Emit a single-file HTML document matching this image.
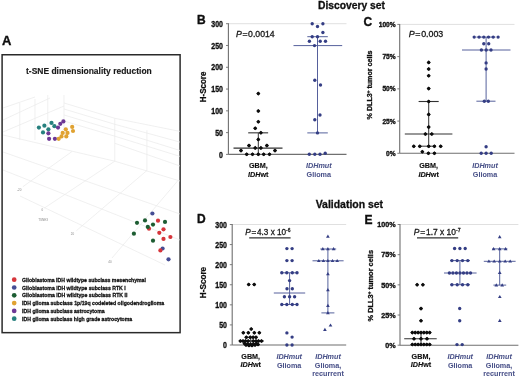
<!DOCTYPE html>
<html><head><meta charset="utf-8"><title>Figure</title>
<style>
html,body{margin:0;padding:0;background:#fff;width:520px;height:378px;overflow:hidden;}
svg{display:block;font-family:"Liberation Sans",sans-serif;}
</style></head><body>
<svg width="520" height="378" viewBox="0 0 520 378" font-family="Liberation Sans, sans-serif">
<defs><filter id="bl" x="0" y="0" width="100%" height="100%" filterUnits="userSpaceOnUse"><feGaussianBlur stdDeviation="0.35"/></filter></defs>
<rect width="520" height="378" fill="#fff"/>
<g filter="url(#bl)">
<text x="2.00" y="45.30" font-size="13" font-weight="bold" text-anchor="start" fill="#111" stroke="#111" stroke-width="0.35">A</text>
<rect x="2.1" y="54.75" width="178.0" height="277.9" fill="none" stroke="#2a2a2a" stroke-width="1.5"/>
<text x="26.00" y="74.20" font-size="9" font-weight="bold" text-anchor="start" fill="#1a1a1a" textLength="125.8" lengthAdjust="spacingAndGlyphs" stroke="#1a1a1a" stroke-width="0.15">t-SNE dimensionality reduction</text>
<line x1="19.80" y1="103.00" x2="19.80" y2="140.00" stroke="#e9e9e9" stroke-width="0.7"/>
<line x1="35.00" y1="99.00" x2="35.00" y2="140.00" stroke="#e9e9e9" stroke-width="0.7"/>
<line x1="47.80" y1="95.00" x2="47.80" y2="140.00" stroke="#e9e9e9" stroke-width="0.7"/>
<line x1="64.00" y1="95.00" x2="64.00" y2="130.00" stroke="#e9e9e9" stroke-width="0.7"/>
<line x1="3.00" y1="132.00" x2="64.00" y2="106.00" stroke="#e9e9e9" stroke-width="0.7"/>
<line x1="3.00" y1="120.00" x2="50.00" y2="98.00" stroke="#e9e9e9" stroke-width="0.7"/>
<line x1="3.00" y1="108.00" x2="35.00" y2="97.00" stroke="#e9e9e9" stroke-width="0.7"/>
<line x1="3.00" y1="135.00" x2="114.80" y2="161.20" stroke="#e9e9e9" stroke-width="0.7"/>
<line x1="114.80" y1="161.20" x2="180.00" y2="181.00" stroke="#e9e9e9" stroke-width="0.7"/>
<line x1="114.80" y1="118.30" x2="114.80" y2="161.20" stroke="#e9e9e9" stroke-width="0.7"/>
<line x1="146.90" y1="130.20" x2="146.90" y2="170.50" stroke="#e9e9e9" stroke-width="0.7"/>
<line x1="64.00" y1="103.00" x2="114.80" y2="118.30" stroke="#e9e9e9" stroke-width="0.7"/>
<line x1="114.80" y1="118.30" x2="180.00" y2="131.40" stroke="#e9e9e9" stroke-width="0.7"/>
<line x1="64.00" y1="109.00" x2="114.80" y2="124.30" stroke="#e9e9e9" stroke-width="0.7"/>
<line x1="114.80" y1="124.30" x2="180.00" y2="142.10" stroke="#e9e9e9" stroke-width="0.7"/>
<line x1="64.00" y1="115.00" x2="114.80" y2="130.20" stroke="#e9e9e9" stroke-width="0.7"/>
<line x1="114.80" y1="130.20" x2="180.00" y2="150.50" stroke="#e9e9e9" stroke-width="0.7"/>
<line x1="64.00" y1="121.00" x2="114.80" y2="136.20" stroke="#e9e9e9" stroke-width="0.7"/>
<line x1="114.80" y1="136.20" x2="180.00" y2="156.40" stroke="#e9e9e9" stroke-width="0.7"/>
<line x1="114.80" y1="143.30" x2="180.00" y2="166.00" stroke="#e9e9e9" stroke-width="0.7"/>
<line x1="22.90" y1="186.70" x2="72.00" y2="151.50" stroke="#e9e9e9" stroke-width="0.7"/>
<line x1="44.30" y1="208.10" x2="114.80" y2="161.20" stroke="#e9e9e9" stroke-width="0.7"/>
<line x1="76.40" y1="230.70" x2="146.90" y2="170.50" stroke="#e9e9e9" stroke-width="0.7"/>
<line x1="112.00" y1="258.00" x2="178.00" y2="180.50" stroke="#e9e9e9" stroke-width="0.7"/>
<line x1="3.00" y1="152.00" x2="180.00" y2="214.00" stroke="#e9e9e9" stroke-width="0.7"/>
<line x1="3.00" y1="170.00" x2="180.00" y2="240.00" stroke="#e9e9e9" stroke-width="0.7"/>
<line x1="20.00" y1="196.00" x2="165.00" y2="265.00" stroke="#e9e9e9" stroke-width="0.7"/>
<text x="19.30" y="190.80" font-size="3" font-weight="normal" text-anchor="middle" fill="#888">-20</text>
<text x="42.40" y="210.80" font-size="3" font-weight="normal" text-anchor="middle" fill="#888">0</text>
<text x="43.00" y="220.50" font-size="3" font-weight="normal" text-anchor="middle" fill="#888">TSNE3</text>
<text x="72.40" y="235.30" font-size="3" font-weight="normal" text-anchor="middle" fill="#888">20</text>
<text x="110.00" y="262.50" font-size="3" font-weight="normal" text-anchor="middle" fill="#888">40</text>
<circle cx="38.9" cy="127.6" r="2.1" fill="#28807e"/>
<circle cx="44.4" cy="125.7" r="2.1" fill="#28807e"/>
<circle cx="43" cy="132.4" r="2.1" fill="#28807e"/>
<circle cx="48.4" cy="129.3" r="2.1" fill="#28807e"/>
<circle cx="51.5" cy="122.9" r="2.1" fill="#28807e"/>
<circle cx="54.4" cy="126.2" r="2.1" fill="#28807e"/>
<circle cx="63.4" cy="121.4" r="2.1" fill="#6d3996"/>
<circle cx="60.3" cy="123.8" r="2.1" fill="#6d3996"/>
<circle cx="58" cy="127.6" r="2.1" fill="#6d3996"/>
<circle cx="48.4" cy="133.3" r="2.1" fill="#6d3996"/>
<circle cx="49.1" cy="138.8" r="2.1" fill="#6d3996"/>
<circle cx="54.9" cy="138.8" r="2.1" fill="#6d3996"/>
<circle cx="65.8" cy="129.3" r="2.1" fill="#e0a230"/>
<circle cx="72.2" cy="126.9" r="2.1" fill="#e0a230"/>
<circle cx="73" cy="131" r="2.1" fill="#e0a230"/>
<circle cx="67.5" cy="132.9" r="2.1" fill="#e0a230"/>
<circle cx="62.7" cy="132.9" r="2.1" fill="#e0a230"/>
<circle cx="61.5" cy="136.4" r="2.1" fill="#e0a230"/>
<circle cx="58.7" cy="138.8" r="2.1" fill="#e0a230"/>
<circle cx="66.3" cy="136.4" r="2.1" fill="#e0a230"/>
<circle cx="162.6" cy="248.5" r="2.1" fill="#444d94"/>
<circle cx="158" cy="220.7" r="2.1" fill="#d6343a"/>
<circle cx="149" cy="228.7" r="2.1" fill="#d6343a"/>
<circle cx="163.5" cy="229.3" r="2.1" fill="#d6343a"/>
<circle cx="159.3" cy="232.8" r="2.1" fill="#d6343a"/>
<circle cx="170.4" cy="237" r="2.1" fill="#d6343a"/>
<circle cx="163.5" cy="238.9" r="2.1" fill="#d6343a"/>
<circle cx="160.4" cy="250.4" r="2.1" fill="#d6343a"/>
<circle cx="137" cy="222.8" r="2.1" fill="#1f5d33"/>
<circle cx="145" cy="220.4" r="2.1" fill="#1f5d33"/>
<circle cx="147.8" cy="226.9" r="2.1" fill="#1f5d33"/>
<circle cx="153" cy="224.6" r="2.1" fill="#1f5d33"/>
<circle cx="165" cy="221.9" r="2.1" fill="#1f5d33"/>
<circle cx="133.9" cy="233.7" r="2.1" fill="#1f5d33"/>
<circle cx="153" cy="240.7" r="2.1" fill="#1f5d33"/>
<circle cx="152.4" cy="213.5" r="2.1" fill="#444d94"/>
<circle cx="168.5" cy="259.3" r="2.1" fill="#444d94"/>
<circle cx="14.2" cy="279.70" r="2.35" fill="#d6343a"/>
<text x="22.10" y="281.80" font-size="6.0" font-weight="bold" text-anchor="start" fill="#111" textLength="123.8" lengthAdjust="spacingAndGlyphs" stroke="#111" stroke-width="0.3">Glioblastoma IDH wildtype subclass mesenchymal</text>
<circle cx="14.2" cy="287.50" r="2.35" fill="#444d94"/>
<text x="22.10" y="289.60" font-size="6.0" font-weight="bold" text-anchor="start" fill="#111" textLength="103.6" lengthAdjust="spacingAndGlyphs" stroke="#111" stroke-width="0.3">Glioblastoma IDH wildtype subclass RTK I</text>
<circle cx="14.2" cy="295.30" r="2.35" fill="#1f5d33"/>
<text x="22.10" y="297.40" font-size="6.0" font-weight="bold" text-anchor="start" fill="#111" textLength="105.3" lengthAdjust="spacingAndGlyphs" stroke="#111" stroke-width="0.3">Glioblastoma IDH wildtype subclass RTK II</text>
<circle cx="14.2" cy="303.10" r="2.35" fill="#e0a230"/>
<text x="22.10" y="305.20" font-size="6.0" font-weight="bold" text-anchor="start" fill="#111" textLength="142.1" lengthAdjust="spacingAndGlyphs" stroke="#111" stroke-width="0.3">IDH glioma subclass 1p/19q codeleted oligodendroglioma</text>
<circle cx="14.2" cy="310.90" r="2.35" fill="#6d3996"/>
<text x="22.10" y="313.00" font-size="6.0" font-weight="bold" text-anchor="start" fill="#111" textLength="82.5" lengthAdjust="spacingAndGlyphs" stroke="#111" stroke-width="0.3">IDH glioma subclass astrocytoma</text>
<circle cx="14.2" cy="318.70" r="2.35" fill="#28807e"/>
<text x="22.10" y="320.80" font-size="6.0" font-weight="bold" text-anchor="start" fill="#111" textLength="110.1" lengthAdjust="spacingAndGlyphs" stroke="#111" stroke-width="0.3">IDH glioma subclass high grade astrocytoma</text>
<text x="318.00" y="8.80" font-size="10.3" font-weight="bold" text-anchor="start" fill="#111" textLength="67" lengthAdjust="spacingAndGlyphs" stroke="#111" stroke-width="0.3">Discovery set</text>
<text x="315.70" y="207.70" font-size="10.6" font-weight="bold" text-anchor="start" fill="#111" textLength="67.4" lengthAdjust="spacingAndGlyphs" stroke="#111" stroke-width="0.3">Validation set</text>
<text x="197.00" y="23.50" font-size="12" font-weight="bold" text-anchor="start" fill="#111" stroke="#111" stroke-width="0.35">B</text>
<line x1="228.40" y1="23.70" x2="346.50" y2="23.70" stroke="#e0e0e0" stroke-width="1.0"/>
<line x1="228.40" y1="23.20" x2="228.40" y2="154.40" stroke="#6f6f6f" stroke-width="1.1"/>
<line x1="228.40" y1="154.40" x2="346.50" y2="154.40" stroke="#6f6f6f" stroke-width="1.1"/>
<line x1="226.00" y1="154.40" x2="228.40" y2="154.40" stroke="#6f6f6f" stroke-width="0.9"/>
<text x="223.00" y="157.60" font-size="8.3" font-weight="bold" text-anchor="end" fill="#111" textLength="3.9" lengthAdjust="spacingAndGlyphs" stroke="#111" stroke-width="0.35">0</text>
<line x1="226.00" y1="132.62" x2="228.40" y2="132.62" stroke="#6f6f6f" stroke-width="0.9"/>
<text x="223.00" y="135.82" font-size="8.3" font-weight="bold" text-anchor="end" fill="#111" textLength="7.8" lengthAdjust="spacingAndGlyphs" stroke="#111" stroke-width="0.35">50</text>
<line x1="226.00" y1="110.83" x2="228.40" y2="110.83" stroke="#6f6f6f" stroke-width="0.9"/>
<text x="223.00" y="114.03" font-size="8.3" font-weight="bold" text-anchor="end" fill="#111" textLength="11.7" lengthAdjust="spacingAndGlyphs" stroke="#111" stroke-width="0.35">100</text>
<line x1="226.00" y1="89.05" x2="228.40" y2="89.05" stroke="#6f6f6f" stroke-width="0.9"/>
<text x="223.00" y="92.25" font-size="8.3" font-weight="bold" text-anchor="end" fill="#111" textLength="11.7" lengthAdjust="spacingAndGlyphs" stroke="#111" stroke-width="0.35">150</text>
<line x1="226.00" y1="67.27" x2="228.40" y2="67.27" stroke="#6f6f6f" stroke-width="0.9"/>
<text x="223.00" y="70.47" font-size="8.3" font-weight="bold" text-anchor="end" fill="#111" textLength="11.7" lengthAdjust="spacingAndGlyphs" stroke="#111" stroke-width="0.35">200</text>
<line x1="226.00" y1="45.48" x2="228.40" y2="45.48" stroke="#6f6f6f" stroke-width="0.9"/>
<text x="223.00" y="48.68" font-size="8.3" font-weight="bold" text-anchor="end" fill="#111" textLength="11.7" lengthAdjust="spacingAndGlyphs" stroke="#111" stroke-width="0.35">250</text>
<line x1="226.00" y1="23.70" x2="228.40" y2="23.70" stroke="#6f6f6f" stroke-width="0.9"/>
<text x="223.00" y="26.90" font-size="8.3" font-weight="bold" text-anchor="end" fill="#111" textLength="11.7" lengthAdjust="spacingAndGlyphs" stroke="#111" stroke-width="0.35">300</text>
<text x="236.00" y="36.80" font-size="8.3" font-weight="normal" text-anchor="start" fill="#151515" textLength="38.6" lengthAdjust="spacingAndGlyphs" stroke="#151515" stroke-width="0.28"><tspan font-style="italic">P</tspan><tspan dx="0.6">=</tspan><tspan dx="0.6">0.0014</tspan></text>
<text x="205.60" y="86.90" font-size="8.2" font-weight="bold" text-anchor="middle" fill="#111" textLength="30.7" lengthAdjust="spacingAndGlyphs" transform="rotate(-90 205.6 86.9)" stroke="#111" stroke-width="0.25">H-Score</text>
<line x1="233.50" y1="148.17" x2="282.50" y2="148.17" stroke="#333" stroke-width="1.1"/>
<line x1="248.20" y1="132.83" x2="268.10" y2="132.83" stroke="#333" stroke-width="1.1"/>
<line x1="258.30" y1="132.83" x2="258.30" y2="154.40" stroke="#333" stroke-width="1.0"/>
<path d="M258.30 91.55L260.35 93.60L258.30 95.65L256.25 93.60Z" fill="#111"/>
<circle cx="258.30" cy="93.60" r="1.5" fill="#111"/>
<path d="M258.30 108.95L260.35 111.00L258.30 113.05L256.25 111.00Z" fill="#111"/>
<circle cx="258.30" cy="111.00" r="1.5" fill="#111"/>
<path d="M258.30 119.65L260.35 121.70L258.30 123.75L256.25 121.70Z" fill="#111"/>
<circle cx="258.30" cy="121.70" r="1.5" fill="#111"/>
<path d="M255.20 126.25L257.25 128.30L255.20 130.35L253.15 128.30Z" fill="#111"/>
<circle cx="255.20" cy="128.30" r="1.5" fill="#111"/>
<path d="M260.90 130.65L262.95 132.70L260.90 134.75L258.85 132.70Z" fill="#111"/>
<circle cx="260.90" cy="132.70" r="1.5" fill="#111"/>
<path d="M258.30 137.35L260.35 139.40L258.30 141.45L256.25 139.40Z" fill="#111"/>
<circle cx="258.30" cy="139.40" r="1.5" fill="#111"/>
<path d="M249.00 143.55L251.05 145.60L249.00 147.65L246.95 145.60Z" fill="#111"/>
<circle cx="249.00" cy="145.60" r="1.5" fill="#111"/>
<path d="M266.90 143.55L268.95 145.60L266.90 147.65L264.85 145.60Z" fill="#111"/>
<circle cx="266.90" cy="145.60" r="1.5" fill="#111"/>
<path d="M255.20 145.85L257.25 147.90L255.20 149.95L253.15 147.90Z" fill="#111"/>
<circle cx="255.20" cy="147.90" r="1.5" fill="#111"/>
<path d="M260.90 145.85L262.95 147.90L260.90 149.95L258.85 147.90Z" fill="#111"/>
<circle cx="260.90" cy="147.90" r="1.5" fill="#111"/>
<path d="M241.00 148.55L243.05 150.60L241.00 152.65L238.95 150.60Z" fill="#111"/>
<circle cx="241.00" cy="150.60" r="1.5" fill="#111"/>
<path d="M275.00 148.55L277.05 150.60L275.00 152.65L272.95 150.60Z" fill="#111"/>
<circle cx="275.00" cy="150.60" r="1.5" fill="#111"/>
<path d="M246.70 152.15L248.75 154.20L246.70 156.25L244.65 154.20Z" fill="#111"/>
<circle cx="246.70" cy="154.20" r="1.5" fill="#111"/>
<path d="M252.50 152.15L254.55 154.20L252.50 156.25L250.45 154.20Z" fill="#111"/>
<circle cx="252.50" cy="154.20" r="1.5" fill="#111"/>
<path d="M258.30 152.15L260.35 154.20L258.30 156.25L256.25 154.20Z" fill="#111"/>
<circle cx="258.30" cy="154.20" r="1.5" fill="#111"/>
<path d="M263.70 152.15L265.75 154.20L263.70 156.25L261.65 154.20Z" fill="#111"/>
<circle cx="263.70" cy="154.20" r="1.5" fill="#111"/>
<path d="M269.50 152.15L271.55 154.20L269.50 156.25L267.45 154.20Z" fill="#111"/>
<circle cx="269.50" cy="154.20" r="1.5" fill="#111"/>
<line x1="293.50" y1="45.60" x2="342.20" y2="45.60" stroke="#56619c" stroke-width="1.0"/>
<line x1="307.30" y1="36.70" x2="327.80" y2="36.70" stroke="#56619c" stroke-width="1.0"/>
<line x1="307.30" y1="132.90" x2="327.80" y2="132.90" stroke="#56619c" stroke-width="1.0"/>
<line x1="317.50" y1="36.70" x2="317.50" y2="132.90" stroke="#56619c" stroke-width="1.0"/>
<circle cx="312.20" cy="23.70" r="1.68" fill="#343e84"/>
<circle cx="322.90" cy="23.70" r="1.68" fill="#343e84"/>
<circle cx="317.50" cy="26.50" r="1.68" fill="#343e84"/>
<circle cx="322.90" cy="32.50" r="1.68" fill="#343e84"/>
<circle cx="312.20" cy="36.70" r="1.68" fill="#343e84"/>
<circle cx="317.50" cy="36.70" r="1.68" fill="#343e84"/>
<circle cx="309.40" cy="41.30" r="1.68" fill="#343e84"/>
<circle cx="320.20" cy="41.30" r="1.68" fill="#343e84"/>
<circle cx="325.50" cy="41.30" r="1.68" fill="#343e84"/>
<circle cx="314.50" cy="45.60" r="1.68" fill="#343e84"/>
<circle cx="314.80" cy="80.20" r="1.68" fill="#343e84"/>
<circle cx="320.50" cy="85.00" r="1.68" fill="#343e84"/>
<circle cx="320.00" cy="115.00" r="1.68" fill="#343e84"/>
<circle cx="314.80" cy="119.80" r="1.68" fill="#343e84"/>
<circle cx="317.50" cy="132.90" r="1.68" fill="#343e84"/>
<circle cx="309.30" cy="154.20" r="1.68" fill="#343e84"/>
<circle cx="314.80" cy="154.20" r="1.68" fill="#343e84"/>
<circle cx="320.00" cy="154.20" r="1.68" fill="#343e84"/>
<circle cx="325.20" cy="153.20" r="1.68" fill="#343e84"/>
<text x="258.30" y="168.40" font-size="7.2" font-weight="bold" text-anchor="middle" fill="#111" stroke="#111" stroke-width="0.15">GBM,</text>
<text x="258.30" y="176.80" font-size="7.2" font-weight="bold" text-anchor="middle" fill="#111" stroke="#111" stroke-width="0.15"><tspan font-style="italic">IDH</tspan>wt</text>
<text x="318.80" y="168.40" font-size="7.2" font-weight="bold" text-anchor="middle" fill="#4a5289" font-style="italic" stroke="#4a5289" stroke-width="0.05">IDHmut</text>
<text x="318.80" y="176.80" font-size="7.2" font-weight="bold" text-anchor="middle" fill="#4a5289" stroke="#4a5289" stroke-width="0.05">Glioma</text>
<text x="363.50" y="25.60" font-size="12" font-weight="bold" text-anchor="start" fill="#111" stroke="#111" stroke-width="0.35">C</text>
<line x1="399.70" y1="24.40" x2="514.50" y2="24.40" stroke="#e0e0e0" stroke-width="1.0"/>
<line x1="399.70" y1="23.90" x2="399.70" y2="153.30" stroke="#6f6f6f" stroke-width="1.1"/>
<line x1="399.70" y1="153.30" x2="514.50" y2="153.30" stroke="#6f6f6f" stroke-width="1.1"/>
<line x1="397.30" y1="153.30" x2="399.70" y2="153.30" stroke="#6f6f6f" stroke-width="0.9"/>
<text x="395.60" y="155.80" font-size="6.6" font-weight="bold" text-anchor="end" fill="#111" stroke="#111" stroke-width="0.35">0%</text>
<line x1="397.30" y1="121.08" x2="399.70" y2="121.08" stroke="#6f6f6f" stroke-width="0.9"/>
<text x="395.60" y="123.58" font-size="6.6" font-weight="bold" text-anchor="end" fill="#111" stroke="#111" stroke-width="0.35">25%</text>
<line x1="397.30" y1="88.85" x2="399.70" y2="88.85" stroke="#6f6f6f" stroke-width="0.9"/>
<text x="395.60" y="91.35" font-size="6.6" font-weight="bold" text-anchor="end" fill="#111" stroke="#111" stroke-width="0.35">50%</text>
<line x1="397.30" y1="56.62" x2="399.70" y2="56.62" stroke="#6f6f6f" stroke-width="0.9"/>
<text x="395.60" y="59.12" font-size="6.6" font-weight="bold" text-anchor="end" fill="#111" stroke="#111" stroke-width="0.35">75%</text>
<line x1="397.30" y1="24.40" x2="399.70" y2="24.40" stroke="#6f6f6f" stroke-width="0.9"/>
<text x="395.60" y="26.90" font-size="6.6" font-weight="bold" text-anchor="end" fill="#111" stroke="#111" stroke-width="0.35">100%</text>
<text x="408.80" y="36.80" font-size="8.3" font-weight="normal" text-anchor="start" fill="#151515" textLength="34.5" lengthAdjust="spacingAndGlyphs" stroke="#151515" stroke-width="0.28"><tspan font-style="italic">P</tspan><tspan dx="0.6">=</tspan><tspan dx="0.6">0.003</tspan></text>
<text x="372.40" y="85.00" font-size="7.0" font-weight="bold" text-anchor="middle" fill="#111" textLength="68.8" lengthAdjust="spacingAndGlyphs" transform="rotate(-90 372.4 85)" stroke="#111" stroke-width="0.3">% DLL3<tspan font-size="4.5" dy="-2.5">+</tspan><tspan dy="2.5"> tumor cells</tspan></text>
<line x1="404.80" y1="134.00" x2="452.40" y2="134.00" stroke="#333" stroke-width="1.1"/>
<line x1="418.60" y1="101.50" x2="438.70" y2="101.50" stroke="#333" stroke-width="1.1"/>
<line x1="421.00" y1="146.20" x2="436.00" y2="146.20" stroke="#333" stroke-width="1.0"/>
<line x1="428.70" y1="101.50" x2="428.70" y2="146.20" stroke="#333" stroke-width="1.0"/>
<path d="M428.70 60.35L430.75 62.40L428.70 64.45L426.65 62.40Z" fill="#111"/>
<circle cx="428.70" cy="62.40" r="1.5" fill="#111"/>
<path d="M428.70 66.95L430.75 69.00L428.70 71.05L426.65 69.00Z" fill="#111"/>
<circle cx="428.70" cy="69.00" r="1.5" fill="#111"/>
<path d="M428.70 73.65L430.75 75.70L428.70 77.75L426.65 75.70Z" fill="#111"/>
<circle cx="428.70" cy="75.70" r="1.5" fill="#111"/>
<path d="M428.70 86.55L430.75 88.60L428.70 90.65L426.65 88.60Z" fill="#111"/>
<circle cx="428.70" cy="88.60" r="1.5" fill="#111"/>
<path d="M428.70 99.45L430.75 101.50L428.70 103.55L426.65 101.50Z" fill="#111"/>
<circle cx="428.70" cy="101.50" r="1.5" fill="#111"/>
<path d="M428.70 112.35L430.75 114.40L428.70 116.45L426.65 114.40Z" fill="#111"/>
<circle cx="428.70" cy="114.40" r="1.5" fill="#111"/>
<path d="M428.70 125.05L430.75 127.10L428.70 129.15L426.65 127.10Z" fill="#111"/>
<circle cx="428.70" cy="127.10" r="1.5" fill="#111"/>
<path d="M425.40 131.95L427.45 134.00L425.40 136.05L423.35 134.00Z" fill="#111"/>
<circle cx="425.40" cy="134.00" r="1.5" fill="#111"/>
<path d="M431.80 131.95L433.85 134.00L431.80 136.05L429.75 134.00Z" fill="#111"/>
<circle cx="431.80" cy="134.00" r="1.5" fill="#111"/>
<path d="M413.80 144.15L415.85 146.20L413.80 148.25L411.75 146.20Z" fill="#111"/>
<circle cx="413.80" cy="146.20" r="1.5" fill="#111"/>
<path d="M419.80 144.15L421.85 146.20L419.80 148.25L417.75 146.20Z" fill="#111"/>
<circle cx="419.80" cy="146.20" r="1.5" fill="#111"/>
<path d="M428.70 144.15L430.75 146.20L428.70 148.25L426.65 146.20Z" fill="#111"/>
<circle cx="428.70" cy="146.20" r="1.5" fill="#111"/>
<path d="M434.40 144.15L436.45 146.20L434.40 148.25L432.35 146.20Z" fill="#111"/>
<circle cx="434.40" cy="146.20" r="1.5" fill="#111"/>
<path d="M440.70 144.15L442.75 146.20L440.70 148.25L438.65 146.20Z" fill="#111"/>
<circle cx="440.70" cy="146.20" r="1.5" fill="#111"/>
<path d="M422.30 149.65L424.35 151.70L422.30 153.75L420.25 151.70Z" fill="#111"/>
<circle cx="422.30" cy="151.70" r="1.5" fill="#111"/>
<path d="M428.40 151.25L430.45 153.30L428.40 155.35L426.35 153.30Z" fill="#111"/>
<circle cx="428.40" cy="153.30" r="1.5" fill="#111"/>
<path d="M434.40 151.25L436.45 153.30L434.40 155.35L432.35 153.30Z" fill="#111"/>
<circle cx="434.40" cy="153.30" r="1.5" fill="#111"/>
<line x1="462.00" y1="50.00" x2="510.50" y2="50.00" stroke="#56619c" stroke-width="1.0"/>
<line x1="476.40" y1="101.20" x2="495.50" y2="101.20" stroke="#56619c" stroke-width="1.0"/>
<line x1="476.40" y1="37.10" x2="495.50" y2="37.10" stroke="#56619c" stroke-width="1.0"/>
<line x1="486.10" y1="37.10" x2="486.10" y2="101.20" stroke="#56619c" stroke-width="1.0"/>
<circle cx="474.20" cy="37.10" r="1.68" fill="#343e84"/>
<circle cx="479.10" cy="37.10" r="1.68" fill="#343e84"/>
<circle cx="483.80" cy="37.10" r="1.68" fill="#343e84"/>
<circle cx="488.50" cy="37.10" r="1.68" fill="#343e84"/>
<circle cx="493.20" cy="37.10" r="1.68" fill="#343e84"/>
<circle cx="498.10" cy="37.10" r="1.68" fill="#343e84"/>
<circle cx="483.80" cy="43.80" r="1.68" fill="#343e84"/>
<circle cx="488.70" cy="43.80" r="1.68" fill="#343e84"/>
<circle cx="481.40" cy="50.00" r="1.68" fill="#343e84"/>
<circle cx="486.20" cy="50.00" r="1.68" fill="#343e84"/>
<circle cx="491.00" cy="50.00" r="1.68" fill="#343e84"/>
<circle cx="486.10" cy="62.90" r="1.68" fill="#343e84"/>
<circle cx="486.10" cy="69.00" r="1.68" fill="#343e84"/>
<circle cx="484.30" cy="101.20" r="1.68" fill="#343e84"/>
<circle cx="488.30" cy="101.20" r="1.68" fill="#343e84"/>
<circle cx="486.10" cy="146.70" r="1.68" fill="#343e84"/>
<circle cx="481.20" cy="153.30" r="1.68" fill="#343e84"/>
<circle cx="486.10" cy="153.30" r="1.68" fill="#343e84"/>
<circle cx="491.20" cy="153.30" r="1.68" fill="#343e84"/>
<text x="428.60" y="168.40" font-size="7.2" font-weight="bold" text-anchor="middle" fill="#111" stroke="#111" stroke-width="0.15">GBM,</text>
<text x="428.60" y="176.80" font-size="7.2" font-weight="bold" text-anchor="middle" fill="#111" stroke="#111" stroke-width="0.15"><tspan font-style="italic">IDH</tspan>wt</text>
<text x="485.00" y="168.40" font-size="7.2" font-weight="bold" text-anchor="middle" fill="#4a5289" font-style="italic" stroke="#4a5289" stroke-width="0.05">IDHmut</text>
<text x="485.00" y="176.80" font-size="7.2" font-weight="bold" text-anchor="middle" fill="#4a5289" stroke="#4a5289" stroke-width="0.05">Glioma</text>
<text x="196.90" y="222.60" font-size="12" font-weight="bold" text-anchor="start" fill="#111" stroke="#111" stroke-width="0.35">D</text>
<line x1="232.20" y1="224.50" x2="346.20" y2="224.50" stroke="#e0e0e0" stroke-width="1.0"/>
<line x1="232.20" y1="224.00" x2="232.20" y2="345.00" stroke="#6f6f6f" stroke-width="1.1"/>
<line x1="232.20" y1="345.00" x2="346.20" y2="345.00" stroke="#6f6f6f" stroke-width="1.1"/>
<line x1="229.80" y1="345.00" x2="232.20" y2="345.00" stroke="#6f6f6f" stroke-width="0.9"/>
<text x="227.00" y="348.30" font-size="8.3" font-weight="bold" text-anchor="end" fill="#111" textLength="3.9" lengthAdjust="spacingAndGlyphs" stroke="#111" stroke-width="0.35">0</text>
<line x1="229.80" y1="324.92" x2="232.20" y2="324.92" stroke="#6f6f6f" stroke-width="0.9"/>
<text x="227.00" y="328.22" font-size="8.3" font-weight="bold" text-anchor="end" fill="#111" textLength="7.8" lengthAdjust="spacingAndGlyphs" stroke="#111" stroke-width="0.35">50</text>
<line x1="229.80" y1="304.83" x2="232.20" y2="304.83" stroke="#6f6f6f" stroke-width="0.9"/>
<text x="227.00" y="308.13" font-size="8.3" font-weight="bold" text-anchor="end" fill="#111" textLength="11.7" lengthAdjust="spacingAndGlyphs" stroke="#111" stroke-width="0.35">100</text>
<line x1="229.80" y1="284.75" x2="232.20" y2="284.75" stroke="#6f6f6f" stroke-width="0.9"/>
<text x="227.00" y="288.05" font-size="8.3" font-weight="bold" text-anchor="end" fill="#111" textLength="11.7" lengthAdjust="spacingAndGlyphs" stroke="#111" stroke-width="0.35">150</text>
<line x1="229.80" y1="264.67" x2="232.20" y2="264.67" stroke="#6f6f6f" stroke-width="0.9"/>
<text x="227.00" y="267.97" font-size="8.3" font-weight="bold" text-anchor="end" fill="#111" textLength="11.7" lengthAdjust="spacingAndGlyphs" stroke="#111" stroke-width="0.35">200</text>
<line x1="229.80" y1="244.58" x2="232.20" y2="244.58" stroke="#6f6f6f" stroke-width="0.9"/>
<text x="227.00" y="247.88" font-size="8.3" font-weight="bold" text-anchor="end" fill="#111" textLength="11.7" lengthAdjust="spacingAndGlyphs" stroke="#111" stroke-width="0.35">250</text>
<line x1="229.80" y1="224.50" x2="232.20" y2="224.50" stroke="#6f6f6f" stroke-width="0.9"/>
<text x="227.00" y="227.80" font-size="8.3" font-weight="bold" text-anchor="end" fill="#111" textLength="11.7" lengthAdjust="spacingAndGlyphs" stroke="#111" stroke-width="0.35">300</text>
<text x="245.30" y="234.80" font-size="8.5" font-weight="normal" text-anchor="start" fill="#151515" textLength="45.2" lengthAdjust="spacingAndGlyphs" stroke="#151515" stroke-width="0.28"><tspan font-style="italic">P</tspan><tspan dx="0.8">=</tspan><tspan dx="0.8">4.3 x 10</tspan><tspan font-size="5.2" dy="-3.3">-6</tspan></text>
<line x1="249.20" y1="237.80" x2="290.60" y2="237.80" stroke="#333" stroke-width="1.3"/>
<text x="206.30" y="282.50" font-size="8.2" font-weight="bold" text-anchor="middle" fill="#111" textLength="31.3" lengthAdjust="spacingAndGlyphs" transform="rotate(-90 206.3 282.5)" stroke="#111" stroke-width="0.25">H-Score</text>
<line x1="238.80" y1="341.00" x2="263.80" y2="341.00" stroke="#333" stroke-width="1.1"/>
<line x1="247.00" y1="337.30" x2="255.00" y2="337.30" stroke="#333" stroke-width="1.0"/>
<line x1="250.70" y1="337.30" x2="250.70" y2="345.00" stroke="#333" stroke-width="1.0"/>
<path d="M248.70 282.45L250.75 284.50L248.70 286.55L246.65 284.50Z" fill="#111"/>
<circle cx="248.70" cy="284.50" r="1.5" fill="#111"/>
<path d="M254.20 282.45L256.25 284.50L254.20 286.55L252.15 284.50Z" fill="#111"/>
<circle cx="254.20" cy="284.50" r="1.5" fill="#111"/>
<path d="M251.20 326.95L253.25 329.00L251.20 331.05L249.15 329.00Z" fill="#111"/>
<circle cx="251.20" cy="329.00" r="1.5" fill="#111"/>
<path d="M243.30 330.75L245.35 332.80L243.30 334.85L241.25 332.80Z" fill="#111"/>
<circle cx="243.30" cy="332.80" r="1.5" fill="#111"/>
<path d="M248.30 330.75L250.35 332.80L248.30 334.85L246.25 332.80Z" fill="#111"/>
<circle cx="248.30" cy="332.80" r="1.5" fill="#111"/>
<path d="M254.30 330.75L256.35 332.80L254.30 334.85L252.25 332.80Z" fill="#111"/>
<circle cx="254.30" cy="332.80" r="1.5" fill="#111"/>
<path d="M259.30 330.75L261.35 332.80L259.30 334.85L257.25 332.80Z" fill="#111"/>
<circle cx="259.30" cy="332.80" r="1.5" fill="#111"/>
<path d="M246.30 335.25L248.35 337.30L246.30 339.35L244.25 337.30Z" fill="#111"/>
<circle cx="246.30" cy="337.30" r="1.5" fill="#111"/>
<path d="M250.20 335.25L252.25 337.30L250.20 339.35L248.15 337.30Z" fill="#111"/>
<circle cx="250.20" cy="337.30" r="1.5" fill="#111"/>
<path d="M253.10 335.25L255.15 337.30L253.10 339.35L251.05 337.30Z" fill="#111"/>
<circle cx="253.10" cy="337.30" r="1.5" fill="#111"/>
<path d="M256.00 335.25L258.05 337.30L256.00 339.35L253.95 337.30Z" fill="#111"/>
<circle cx="256.00" cy="337.30" r="1.5" fill="#111"/>
<path d="M240.40 338.95L242.45 341.00L240.40 343.05L238.35 341.00Z" fill="#111"/>
<circle cx="240.40" cy="341.00" r="1.5" fill="#111"/>
<path d="M243.00 338.95L245.05 341.00L243.00 343.05L240.95 341.00Z" fill="#111"/>
<circle cx="243.00" cy="341.00" r="1.5" fill="#111"/>
<path d="M245.50 338.95L247.55 341.00L245.50 343.05L243.45 341.00Z" fill="#111"/>
<circle cx="245.50" cy="341.00" r="1.5" fill="#111"/>
<path d="M248.20 338.95L250.25 341.00L248.20 343.05L246.15 341.00Z" fill="#111"/>
<circle cx="248.20" cy="341.00" r="1.5" fill="#111"/>
<path d="M253.20 338.95L255.25 341.00L253.20 343.05L251.15 341.00Z" fill="#111"/>
<circle cx="253.20" cy="341.00" r="1.5" fill="#111"/>
<path d="M256.00 338.95L258.05 341.00L256.00 343.05L253.95 341.00Z" fill="#111"/>
<circle cx="256.00" cy="341.00" r="1.5" fill="#111"/>
<path d="M258.50 338.95L260.55 341.00L258.50 343.05L256.45 341.00Z" fill="#111"/>
<circle cx="258.50" cy="341.00" r="1.5" fill="#111"/>
<path d="M261.50 338.95L263.55 341.00L261.50 343.05L259.45 341.00Z" fill="#111"/>
<circle cx="261.50" cy="341.00" r="1.5" fill="#111"/>
<path d="M244.50 341.45L246.55 343.50L244.50 345.55L242.45 343.50Z" fill="#111"/>
<circle cx="244.50" cy="343.50" r="1.5" fill="#111"/>
<path d="M247.50 341.95L249.55 344.00L247.50 346.05L245.45 344.00Z" fill="#111"/>
<circle cx="247.50" cy="344.00" r="1.5" fill="#111"/>
<path d="M250.50 342.15L252.55 344.20L250.50 346.25L248.45 344.20Z" fill="#111"/>
<circle cx="250.50" cy="344.20" r="1.5" fill="#111"/>
<path d="M253.50 341.95L255.55 344.00L253.50 346.05L251.45 344.00Z" fill="#111"/>
<circle cx="253.50" cy="344.00" r="1.5" fill="#111"/>
<path d="M256.50 341.45L258.55 343.50L256.50 345.55L254.45 343.50Z" fill="#111"/>
<circle cx="256.50" cy="343.50" r="1.5" fill="#111"/>
<path d="M246.00 342.95L248.05 345.00L246.00 347.05L243.95 345.00Z" fill="#111"/>
<circle cx="246.00" cy="345.00" r="1.5" fill="#111"/>
<path d="M249.00 343.45L251.05 345.50L249.00 347.55L246.95 345.50Z" fill="#111"/>
<circle cx="249.00" cy="345.50" r="1.5" fill="#111"/>
<path d="M252.00 343.45L254.05 345.50L252.00 347.55L249.95 345.50Z" fill="#111"/>
<circle cx="252.00" cy="345.50" r="1.5" fill="#111"/>
<path d="M255.00 342.95L257.05 345.00L255.00 347.05L252.95 345.00Z" fill="#111"/>
<circle cx="255.00" cy="345.00" r="1.5" fill="#111"/>
<path d="M258.00 342.45L260.05 344.50L258.00 346.55L255.95 344.50Z" fill="#111"/>
<circle cx="258.00" cy="344.50" r="1.5" fill="#111"/>
<line x1="273.80" y1="293.00" x2="305.20" y2="293.00" stroke="#56619c" stroke-width="1.0"/>
<line x1="281.00" y1="272.80" x2="298.00" y2="272.80" stroke="#56619c" stroke-width="1.0"/>
<line x1="281.00" y1="304.50" x2="298.00" y2="304.50" stroke="#56619c" stroke-width="1.0"/>
<line x1="289.60" y1="272.80" x2="289.60" y2="304.50" stroke="#56619c" stroke-width="1.0"/>
<circle cx="286.90" cy="248.60" r="1.68" fill="#343e84"/>
<circle cx="292.10" cy="248.60" r="1.68" fill="#343e84"/>
<circle cx="286.90" cy="260.60" r="1.68" fill="#343e84"/>
<circle cx="292.10" cy="260.60" r="1.68" fill="#343e84"/>
<circle cx="281.80" cy="272.80" r="1.68" fill="#343e84"/>
<circle cx="286.80" cy="272.80" r="1.68" fill="#343e84"/>
<circle cx="292.30" cy="272.80" r="1.68" fill="#343e84"/>
<circle cx="297.00" cy="272.80" r="1.68" fill="#343e84"/>
<circle cx="289.60" cy="280.60" r="1.68" fill="#343e84"/>
<circle cx="287.00" cy="288.80" r="1.68" fill="#343e84"/>
<circle cx="292.30" cy="288.80" r="1.68" fill="#343e84"/>
<circle cx="284.40" cy="296.80" r="1.68" fill="#343e84"/>
<circle cx="289.60" cy="296.80" r="1.68" fill="#343e84"/>
<circle cx="294.60" cy="296.80" r="1.68" fill="#343e84"/>
<circle cx="281.80" cy="304.50" r="1.68" fill="#343e84"/>
<circle cx="286.80" cy="304.50" r="1.68" fill="#343e84"/>
<circle cx="292.30" cy="304.50" r="1.68" fill="#343e84"/>
<circle cx="297.00" cy="304.50" r="1.68" fill="#343e84"/>
<circle cx="286.90" cy="332.90" r="1.68" fill="#343e84"/>
<circle cx="292.10" cy="337.10" r="1.68" fill="#343e84"/>
<circle cx="286.90" cy="345.00" r="1.68" fill="#343e84"/>
<circle cx="292.10" cy="345.00" r="1.68" fill="#343e84"/>
<line x1="312.50" y1="260.80" x2="343.60" y2="260.80" stroke="#56619c" stroke-width="1.0"/>
<line x1="320.30" y1="249.00" x2="336.20" y2="249.00" stroke="#56619c" stroke-width="1.0"/>
<line x1="321.40" y1="312.90" x2="334.40" y2="312.90" stroke="#56619c" stroke-width="1.0"/>
<line x1="327.90" y1="249.00" x2="327.90" y2="312.90" stroke="#56619c" stroke-width="1.0"/>
<path d="M327.90 234.58L329.75 237.78L326.05 237.78Z" fill="#343e84"/>
<path d="M322.80 247.08L324.65 250.28L320.95 250.28Z" fill="#343e84"/>
<path d="M327.90 247.08L329.75 250.28L326.05 250.28Z" fill="#343e84"/>
<path d="M333.60 247.08L335.45 250.28L331.75 250.28Z" fill="#343e84"/>
<path d="M318.80 258.88L320.65 262.08L316.95 262.08Z" fill="#343e84"/>
<path d="M323.40 258.88L325.25 262.08L321.55 262.08Z" fill="#343e84"/>
<path d="M327.90 258.88L329.75 262.08L326.05 262.08Z" fill="#343e84"/>
<path d="M332.50 258.88L334.35 262.08L330.65 262.08Z" fill="#343e84"/>
<path d="M337.20 258.88L339.05 262.08L335.35 262.08Z" fill="#343e84"/>
<path d="M327.90 272.08L329.75 275.28L326.05 275.28Z" fill="#343e84"/>
<path d="M327.90 287.98L329.75 291.18L326.05 291.18Z" fill="#343e84"/>
<path d="M327.90 303.68L329.75 306.88L326.05 306.88Z" fill="#343e84"/>
<path d="M327.90 311.08L329.75 314.28L326.05 314.28Z" fill="#343e84"/>
<path d="M330.50 323.38L332.35 326.58L328.65 326.58Z" fill="#343e84"/>
<path d="M324.90 327.78L326.75 330.98L323.05 330.98Z" fill="#343e84"/>
<text x="250.70" y="358.60" font-size="7.2" font-weight="bold" text-anchor="middle" fill="#111" stroke="#111" stroke-width="0.15">GBM,</text>
<text x="250.70" y="367.40" font-size="7.2" font-weight="bold" text-anchor="middle" fill="#111" stroke="#111" stroke-width="0.15"><tspan font-style="italic">IDH</tspan>wt</text>
<text x="289.20" y="358.60" font-size="7.2" font-weight="bold" text-anchor="middle" fill="#4a5289" font-style="italic" stroke="#4a5289" stroke-width="0.05">IDHmut</text>
<text x="289.20" y="367.60" font-size="7.2" font-weight="bold" text-anchor="middle" fill="#4a5289" stroke="#4a5289" stroke-width="0.05">Glioma</text>
<text x="328.00" y="358.60" font-size="7.2" font-weight="bold" text-anchor="middle" fill="#4a5289" font-style="italic" stroke="#4a5289" stroke-width="0.05">IDHmut</text>
<text x="328.00" y="367.60" font-size="7.2" font-weight="bold" text-anchor="middle" fill="#4a5289" stroke="#4a5289" stroke-width="0.05">Glioma,</text>
<text x="328.00" y="376.40" font-size="7.2" font-weight="bold" text-anchor="middle" fill="#4a5289" stroke="#4a5289" stroke-width="0.05">recurrent</text>
<text x="364.50" y="223.50" font-size="12" font-weight="bold" text-anchor="start" fill="#111" stroke="#111" stroke-width="0.35">E</text>
<line x1="400.00" y1="224.50" x2="518.40" y2="224.50" stroke="#e0e0e0" stroke-width="1.0"/>
<line x1="400.00" y1="224.00" x2="400.00" y2="345.20" stroke="#6f6f6f" stroke-width="1.1"/>
<line x1="400.00" y1="345.20" x2="518.40" y2="345.20" stroke="#6f6f6f" stroke-width="1.1"/>
<line x1="397.60" y1="345.20" x2="400.00" y2="345.20" stroke="#6f6f6f" stroke-width="0.9"/>
<text x="395.60" y="347.85" font-size="7.2" font-weight="bold" text-anchor="end" fill="#111" stroke="#111" stroke-width="0.35">0%</text>
<line x1="397.60" y1="315.02" x2="400.00" y2="315.02" stroke="#6f6f6f" stroke-width="0.9"/>
<text x="395.60" y="317.67" font-size="7.2" font-weight="bold" text-anchor="end" fill="#111" stroke="#111" stroke-width="0.35">25%</text>
<line x1="397.60" y1="284.85" x2="400.00" y2="284.85" stroke="#6f6f6f" stroke-width="0.9"/>
<text x="395.60" y="287.50" font-size="7.2" font-weight="bold" text-anchor="end" fill="#111" stroke="#111" stroke-width="0.35">50%</text>
<line x1="397.60" y1="254.68" x2="400.00" y2="254.68" stroke="#6f6f6f" stroke-width="0.9"/>
<text x="395.60" y="257.32" font-size="7.2" font-weight="bold" text-anchor="end" fill="#111" stroke="#111" stroke-width="0.35">75%</text>
<line x1="397.60" y1="224.50" x2="400.00" y2="224.50" stroke="#6f6f6f" stroke-width="0.9"/>
<text x="395.60" y="227.15" font-size="7.2" font-weight="bold" text-anchor="end" fill="#111" stroke="#111" stroke-width="0.35">100%</text>
<text x="413.80" y="234.80" font-size="8.5" font-weight="normal" text-anchor="start" fill="#151515" textLength="46.8" lengthAdjust="spacingAndGlyphs" stroke="#151515" stroke-width="0.28"><tspan font-style="italic">P</tspan><tspan dx="0.8">=</tspan><tspan dx="0.8">1.7 x 10</tspan><tspan font-size="5.2" dy="-3.3">-7</tspan></text>
<line x1="417.00" y1="237.80" x2="458.20" y2="237.80" stroke="#333" stroke-width="1.3"/>
<text x="373.20" y="285.70" font-size="7.0" font-weight="bold" text-anchor="middle" fill="#111" textLength="71.5" lengthAdjust="spacingAndGlyphs" transform="rotate(-90 373.2 285.7)" stroke="#111" stroke-width="0.3">% DLL3<tspan font-size="4.5" dy="-2.5">+</tspan><tspan dy="2.5"> tumor cells</tspan></text>
<line x1="404.20" y1="338.80" x2="436.70" y2="338.80" stroke="#333" stroke-width="1.1"/>
<line x1="417.00" y1="332.60" x2="425.00" y2="332.60" stroke="#333" stroke-width="1.0"/>
<line x1="421.00" y1="332.60" x2="421.00" y2="345.00" stroke="#333" stroke-width="1.0"/>
<path d="M417.10 282.75L419.15 284.80L417.10 286.85L415.05 284.80Z" fill="#111"/>
<circle cx="417.10" cy="284.80" r="1.5" fill="#111"/>
<path d="M422.90 282.75L424.95 284.80L422.90 286.85L420.85 284.80Z" fill="#111"/>
<circle cx="422.90" cy="284.80" r="1.5" fill="#111"/>
<path d="M421.00 306.55L423.05 308.60L421.00 310.65L418.95 308.60Z" fill="#111"/>
<circle cx="421.00" cy="308.60" r="1.5" fill="#111"/>
<path d="M421.00 318.65L423.05 320.70L421.00 322.75L418.95 320.70Z" fill="#111"/>
<circle cx="421.00" cy="320.70" r="1.5" fill="#111"/>
<path d="M412.30 330.55L414.35 332.60L412.30 334.65L410.25 332.60Z" fill="#111"/>
<circle cx="412.30" cy="332.60" r="1.5" fill="#111"/>
<path d="M415.20 330.55L417.25 332.60L415.20 334.65L413.15 332.60Z" fill="#111"/>
<circle cx="415.20" cy="332.60" r="1.5" fill="#111"/>
<path d="M418.10 330.55L420.15 332.60L418.10 334.65L416.05 332.60Z" fill="#111"/>
<circle cx="418.10" cy="332.60" r="1.5" fill="#111"/>
<path d="M421.00 330.55L423.05 332.60L421.00 334.65L418.95 332.60Z" fill="#111"/>
<circle cx="421.00" cy="332.60" r="1.5" fill="#111"/>
<path d="M423.90 330.55L425.95 332.60L423.90 334.65L421.85 332.60Z" fill="#111"/>
<circle cx="423.90" cy="332.60" r="1.5" fill="#111"/>
<path d="M426.80 330.55L428.85 332.60L426.80 334.65L424.75 332.60Z" fill="#111"/>
<circle cx="426.80" cy="332.60" r="1.5" fill="#111"/>
<path d="M429.70 330.55L431.75 332.60L429.70 334.65L427.65 332.60Z" fill="#111"/>
<circle cx="429.70" cy="332.60" r="1.5" fill="#111"/>
<path d="M414.00 336.75L416.05 338.80L414.00 340.85L411.95 338.80Z" fill="#111"/>
<circle cx="414.00" cy="338.80" r="1.5" fill="#111"/>
<path d="M421.00 336.75L423.05 338.80L421.00 340.85L418.95 338.80Z" fill="#111"/>
<circle cx="421.00" cy="338.80" r="1.5" fill="#111"/>
<path d="M427.00 336.75L429.05 338.80L427.00 340.85L424.95 338.80Z" fill="#111"/>
<circle cx="427.00" cy="338.80" r="1.5" fill="#111"/>
<path d="M412.30 342.45L414.35 344.50L412.30 346.55L410.25 344.50Z" fill="#111"/>
<circle cx="412.30" cy="344.50" r="1.5" fill="#111"/>
<path d="M415.20 342.45L417.25 344.50L415.20 346.55L413.15 344.50Z" fill="#111"/>
<circle cx="415.20" cy="344.50" r="1.5" fill="#111"/>
<path d="M418.10 342.45L420.15 344.50L418.10 346.55L416.05 344.50Z" fill="#111"/>
<circle cx="418.10" cy="344.50" r="1.5" fill="#111"/>
<path d="M421.00 342.45L423.05 344.50L421.00 346.55L418.95 344.50Z" fill="#111"/>
<circle cx="421.00" cy="344.50" r="1.5" fill="#111"/>
<path d="M423.90 342.45L425.95 344.50L423.90 346.55L421.85 344.50Z" fill="#111"/>
<circle cx="423.90" cy="344.50" r="1.5" fill="#111"/>
<path d="M426.80 342.45L428.85 344.50L426.80 346.55L424.75 344.50Z" fill="#111"/>
<circle cx="426.80" cy="344.50" r="1.5" fill="#111"/>
<path d="M429.70 342.45L431.75 344.50L429.70 346.55L427.65 344.50Z" fill="#111"/>
<circle cx="429.70" cy="344.50" r="1.5" fill="#111"/>
<line x1="444.00" y1="273.00" x2="476.60" y2="273.00" stroke="#56619c" stroke-width="1.0"/>
<line x1="450.00" y1="260.60" x2="470.00" y2="260.60" stroke="#56619c" stroke-width="1.0"/>
<line x1="450.00" y1="284.70" x2="470.00" y2="284.70" stroke="#56619c" stroke-width="1.0"/>
<line x1="459.90" y1="260.60" x2="459.90" y2="284.70" stroke="#56619c" stroke-width="1.0"/>
<circle cx="454.60" cy="248.50" r="1.68" fill="#343e84"/>
<circle cx="459.90" cy="248.50" r="1.68" fill="#343e84"/>
<circle cx="465.20" cy="248.50" r="1.68" fill="#343e84"/>
<circle cx="451.90" cy="260.60" r="1.68" fill="#343e84"/>
<circle cx="457.20" cy="260.60" r="1.68" fill="#343e84"/>
<circle cx="462.50" cy="260.60" r="1.68" fill="#343e84"/>
<circle cx="467.80" cy="260.60" r="1.68" fill="#343e84"/>
<circle cx="449.40" cy="273.00" r="1.68" fill="#343e84"/>
<circle cx="452.92" cy="273.00" r="1.68" fill="#343e84"/>
<circle cx="456.44" cy="273.00" r="1.68" fill="#343e84"/>
<circle cx="459.96" cy="273.00" r="1.68" fill="#343e84"/>
<circle cx="463.48" cy="273.00" r="1.68" fill="#343e84"/>
<circle cx="467.00" cy="273.00" r="1.68" fill="#343e84"/>
<circle cx="470.52" cy="273.00" r="1.68" fill="#343e84"/>
<circle cx="451.90" cy="284.70" r="1.68" fill="#343e84"/>
<circle cx="457.20" cy="284.70" r="1.68" fill="#343e84"/>
<circle cx="462.50" cy="284.70" r="1.68" fill="#343e84"/>
<circle cx="467.80" cy="284.70" r="1.68" fill="#343e84"/>
<circle cx="459.70" cy="308.50" r="1.68" fill="#343e84"/>
<circle cx="459.70" cy="320.70" r="1.68" fill="#343e84"/>
<circle cx="457.00" cy="344.60" r="1.68" fill="#343e84"/>
<circle cx="462.20" cy="344.60" r="1.68" fill="#343e84"/>
<line x1="483.80" y1="261.30" x2="515.60" y2="261.30" stroke="#56619c" stroke-width="1.0"/>
<line x1="492.20" y1="248.90" x2="507.40" y2="248.90" stroke="#56619c" stroke-width="1.0"/>
<line x1="493.40" y1="285.10" x2="506.20" y2="285.10" stroke="#56619c" stroke-width="1.0"/>
<line x1="499.70" y1="248.90" x2="499.70" y2="285.10" stroke="#56619c" stroke-width="1.0"/>
<path d="M499.70 234.98L501.55 238.18L497.85 238.18Z" fill="#343e84"/>
<path d="M493.60 246.98L495.45 250.18L491.75 250.18Z" fill="#343e84"/>
<path d="M499.70 246.98L501.55 250.18L497.85 250.18Z" fill="#343e84"/>
<path d="M505.60 246.98L507.45 250.18L503.75 250.18Z" fill="#343e84"/>
<path d="M488.90 259.38L490.75 262.58L487.05 262.58Z" fill="#343e84"/>
<path d="M494.20 259.38L496.05 262.58L492.35 262.58Z" fill="#343e84"/>
<path d="M499.70 259.38L501.55 262.58L497.85 262.58Z" fill="#343e84"/>
<path d="M505.20 259.38L507.05 262.58L503.35 262.58Z" fill="#343e84"/>
<path d="M510.20 259.38L512.05 262.58L508.35 262.58Z" fill="#343e84"/>
<path d="M499.70 270.78L501.55 273.98L497.85 273.98Z" fill="#343e84"/>
<path d="M496.30 283.18L498.15 286.38L494.45 286.38Z" fill="#343e84"/>
<path d="M502.20 283.18L504.05 286.38L500.35 286.38Z" fill="#343e84"/>
<path d="M499.80 294.88L501.65 298.08L497.95 298.08Z" fill="#343e84"/>
<path d="M499.80 318.78L501.65 321.98L497.95 321.98Z" fill="#343e84"/>
<text x="421.00" y="358.60" font-size="7.2" font-weight="bold" text-anchor="middle" fill="#111" stroke="#111" stroke-width="0.15">GBM,</text>
<text x="421.00" y="367.40" font-size="7.2" font-weight="bold" text-anchor="middle" fill="#111" stroke="#111" stroke-width="0.15"><tspan font-style="italic">IDH</tspan>wt</text>
<text x="460.20" y="358.60" font-size="7.2" font-weight="bold" text-anchor="middle" fill="#4a5289" font-style="italic" stroke="#4a5289" stroke-width="0.05">IDHmut</text>
<text x="460.20" y="367.60" font-size="7.2" font-weight="bold" text-anchor="middle" fill="#4a5289" stroke="#4a5289" stroke-width="0.05">Glioma</text>
<text x="499.00" y="358.60" font-size="7.2" font-weight="bold" text-anchor="middle" fill="#4a5289" font-style="italic" stroke="#4a5289" stroke-width="0.05">IDHmut</text>
<text x="499.00" y="367.60" font-size="7.2" font-weight="bold" text-anchor="middle" fill="#4a5289" stroke="#4a5289" stroke-width="0.05">Glioma,</text>
<text x="499.00" y="376.40" font-size="7.2" font-weight="bold" text-anchor="middle" fill="#4a5289" stroke="#4a5289" stroke-width="0.05">recurrent</text>
</g>
</svg>
</body></html>
